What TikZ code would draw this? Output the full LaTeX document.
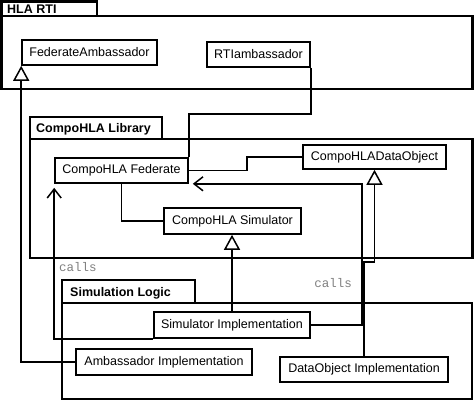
\documentclass[tikz,border=0pt]{standalone}
\usepackage{fontspec}
\setmainfont{Liberation Sans}
\newfontfamily\callsfont{Liberation Mono}
\usetikzlibrary{arrows.meta}

\tikzset{
	lop/.style={draw, line width=1.6pt, inner sep=0pt, minimum height=25pt},
	goi/.style={line width=2.8pt},
	tengoi/.style={anchor=west, inner sep=0pt, font=\bfseries},
	noi/.style={line width=1.5pt},
	kethua/.style={noi, -{Triangle[open, length=15pt, width=16pt, line width=1.5pt]}},
	goiham/.style={noi, -{Straight Barb[length=9pt, width=14pt, line width=1.5pt]}, shorten >=4pt},
	nhan/.style={text=gray, font=\callsfont}
}

\begin{document}
\begin{tikzpicture}[x=1pt, y=-1pt]
		\fontsize{12.5}{14}\selectfont
		\useasboundingbox (0,0) rectangle (474,401);
		
		% --- CÁC GÓI (PACKAGE) ---
		\draw[goi] (1.5,1.5) rectangle (97,16);
		\draw[goi] (1.5,16) rectangle (472.5,89);
		\node[tengoi] (tHLA) at (7,9) {HLA RTI};
		
		\draw[goi] (30,117) rectangle (162,139);
		\draw[goi] (30,139) rectangle (472.5,258);
		\node[tengoi] (tLib) at (36,129) {CompoHLA Library};
		
		\draw[goi] (62,280) rectangle (195,303);
		\draw[goi] (62,303) rectangle (472,399);
		\node[tengoi] (tSim) at (70,293) {Simulation Logic};
		
		% --- CÁC LỚP ---
		\node[lop, minimum width=135pt] (fedamb) at (89.5,52.5) {FederateAmbassador};
		\node[lop, minimum width=103pt] (rtiamb) at (258.5,54.5) {RTIambassador};
		\node[lop, minimum width=133pt] (fed) at (121.5,170.5) {CompoHLA Federate};
		\node[lop, minimum width=143pt, minimum height=24pt] (dobj) at (374.5,157) {CompoHLADataObject};
		\node[lop, minimum width=137pt, minimum height=26pt] (sim) at (232.5,221) {CompoHLA Simulator};
		\node[lop, minimum width=156pt, minimum height=26pt] (simimpl) at (232,325) {Simulator Implementation};
		\node[lop, minimum width=176pt, minimum height=26pt] (ambimpl) at (164,362) {Ambassador Implementation};
		\node[lop, minimum width=168pt] (dobjimpl) at (364,369.5) {DataObject Implementation};
		
		% --- CÁC ĐƯỜNG NỐI ---
		\draw[kethua] (ambimpl.west) -| (fedamb.south west);
		\draw[noi] (rtiamb.south east) -- ++(0,46) -| (fed.north east);
		\draw[noi] (fed.east) -- ++(58,0) |- (dobj.west);
		\draw[noi] (fed.south) |- (sim.west);
		\draw[kethua] (simimpl.north) -- (simimpl.north |- sim.south);
		\draw[kethua] (dobjimpl.north) -- ++(0,-94) -| (dobj.south);
		
		% Các lời gọi "calls"
		\draw[goiham] (simimpl.east) -- ++(51,0) |- (fed.south east);
		\draw[goiham] (simimpl.south west) -| (fed.south west);
		\node[nhan] (calls1) at (78,267) {calls};
		\node[nhan] (calls2) at (333,283) {calls};
		
	\end{tikzpicture}
\end{document}
